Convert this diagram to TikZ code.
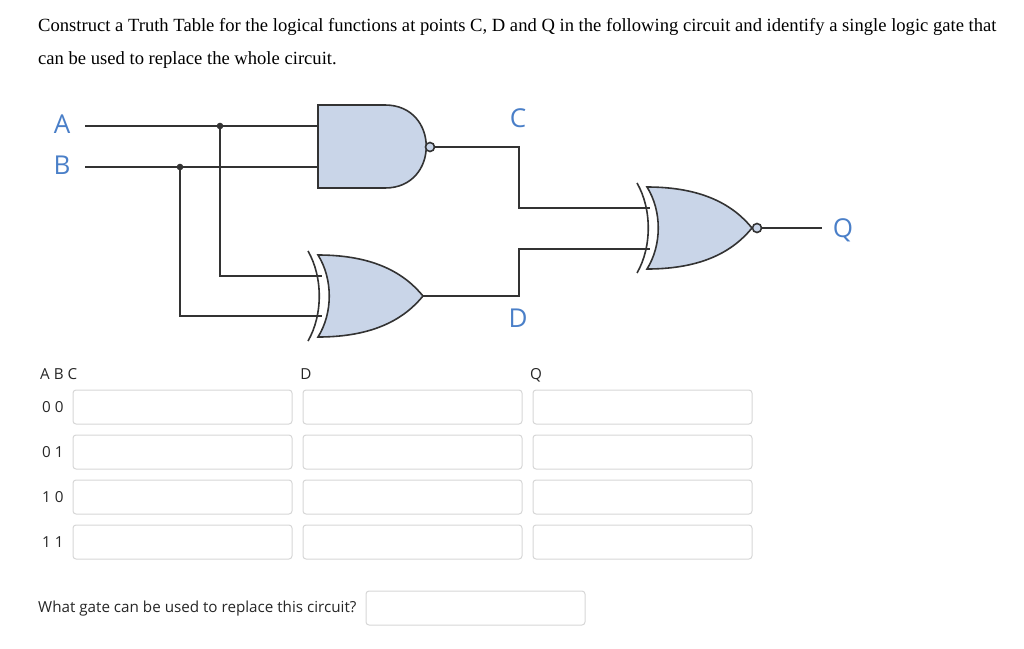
\documentclass[tikz,border=0pt]{standalone}
\usepackage{fontspec}
\setmainfont{Liberation Serif}
\newfontfamily\uisans{Open Sans}
\definecolor{gfill}{HTML}{C9D5E8}
\definecolor{wire}{HTML}{333333}
\definecolor{lbl}{HTML}{4A7FC8}
\definecolor{boxc}{HTML}{D6D6D6}
\begin{document}
\begin{tikzpicture}[x=1pt,y=-1pt,
  gate/.style={draw=wire,fill=gfill,line width=1.6pt},
  wirel/.style={draw=wire,line width=1.6pt},
  sig/.style={text=lbl,font=\uisans\fontsize{26}{28}\selectfont,inner sep=0},
  q/.style={font=\fontsize{18.6}{21}\selectfont,anchor=base west,inner sep=0},
  ui/.style={font=\uisans\fontsize{15.2}{17}\selectfont,inner sep=0,text=black!85},
  ansbox/.style={draw=boxc,rounded corners=3pt,line width=1pt},
  xorg/.pic={
    \draw[gate] (0,0) .. controls (57,0) and (87,19) .. (105,41)
       .. controls (87,63) and (57,82) .. (0,82)
       .. controls (15,58) and (15,24) .. cycle;
    \draw[wirel] (-10,-4) .. controls (5,22) and (5,60) .. (-10,86);
  }]
\useasboundingbox (0,0) rectangle (1024,648);
\node[q] (q1) at (38,31) {Construct a Truth Table for the logical functions at points C, D and Q in the following circuit and identify a single logic gate that};
\node[q] (q2) at (38,64) {can be used to replace the whole circuit.};
% labels
\node[sig] (A) at (62,124) {A};
\node[sig] (B) at (62,165) {B};
\node[sig] (C) at (518,118) {C};
\node[sig] (D) at (518,318) {D};
\node[sig] (Q) at (843,230) {Q};
% wires
\coordinate (ja) at (220,126);
\coordinate (jb) at (180,167);
\draw[wirel] (85,126) -- (318,126);
\draw[wirel] (85,167) -- (318,167);
\draw[wirel] (ja) -- (220,276) -- (322,276);
\draw[wirel] (jb) -- (180,316) -- (322,316);
\fill[wire] (ja) circle (3.3);
\fill[wire] (jb) circle (3.3);
\draw[wirel] (434,147) -- (519,147) -- (519,208) -- (650,208);
\draw[wirel] (423,296) -- (519,296) -- (519,249) -- (650,249);
\draw[wirel] (761,228) -- (822,228);
% NAND
\draw[gate] (318,105) -- (385,105) .. controls (440,105) and (440,188) .. (385,188) -- (318,188) -- cycle;
\draw[gate] (430,147) circle (4.5);
% XOR lower
\pic at (318,255) {xorg};
% XNOR upper
\pic at (647,187) {xorg};
\draw[gate] (757,228) circle (4.5);
% table
\node[ui,anchor=base west] (hABC) at (40,379) {A B C};
\node[ui,anchor=base] (hD) at (306,379) {D};
\node[ui,anchor=base] (hQ) at (536,379) {Q};
\foreach \y/\t [count=\i] in {390/0 0,435/0 1,480/1 0,525/1 1}{
  \node[ui,anchor=base west] (r\i) at (42,\y+22) {\t};
  \draw[ansbox] (73,\y) rectangle (292,\y+34);
  \draw[ansbox] (303,\y) rectangle (522,\y+34);
  \draw[ansbox] (533,\y) rectangle (752,\y+34);
}
\node[ui,anchor=base west] (wq) at (38,612) {What gate can be used to replace this circuit?};
\draw[ansbox] (366,591) rectangle (585,625);
\end{tikzpicture}
\end{document}
